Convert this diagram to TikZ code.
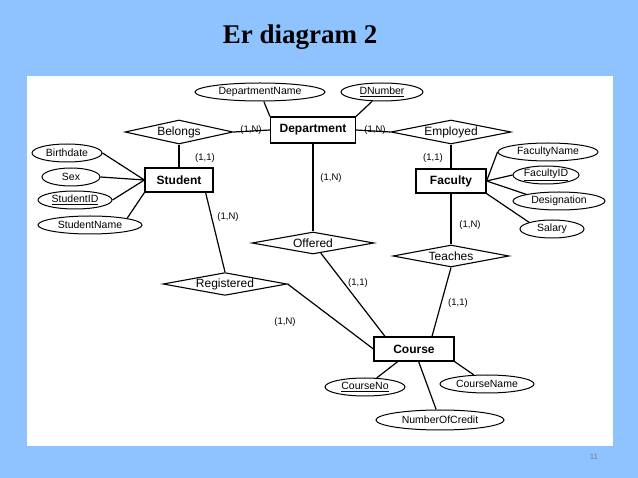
\documentclass[tikz,border=0pt]{standalone}
\usepackage{fontspec}
\setmainfont{Liberation Sans}
\newfontfamily\titlefont{Liberation Serif}
\usetikzlibrary{shapes.geometric}
\definecolor{bg}{HTML}{8EC3FF}
\begin{document}
\begin{tikzpicture}[x=1pt,y=-1pt,
  ent/.style={draw,line width=1.2pt,fill=white,font=\fontsize{12}{14}\selectfont\bfseries,minimum height=24pt,inner sep=1pt},
  att/.style={draw,line width=1pt,ellipse,fill=white,font=\fontsize{10.5}{12}\selectfont,minimum height=18pt,inner sep=0pt},
  rel/.style={draw,line width=1.1pt,diamond,aspect=5,fill=white,font=\fontsize{12}{14}\selectfont,inner sep=0pt},
  card/.style={font=\fontsize{9.5}{11}\selectfont},
  ln/.style={line width=1.2pt}]
\fill[bg] (0,0) rectangle (638,478);
\fill[white] (27,76) rectangle (613,446);
\node[font=\titlefont\fontsize{27}{30}\selectfont\bfseries] (title) at (300,37) {Er diagram 2};
\node[font=\fontsize{8}{9}\selectfont,text=gray] (pg) at (594,457) {11};
% entities
\node[ent,minimum width=85pt,minimum height=26pt] (dep) at (313,130) {Department};
\node[ent,minimum width=68pt] (stu) at (179,180) {Student};
\node[ent,minimum width=70pt] (fac) at (451,181) {Faculty};
\node[ent,minimum width=80pt] (cou) at (414,349) {Course};
% attributes
\node[att,minimum width=130pt] (dname) at (260,92) {DepartmentName};
\node[att,minimum width=82pt] (dnum) at (382,92) {\underline{DNumber}};
\node[att,minimum width=70pt] (bd) at (67,153) {Birthdate};
\node[att,minimum width=58pt] (sex) at (71,177) {Sex};
\node[att,minimum width=74pt] (sid) at (75,200) {\underline{StudentID}};
\node[att,minimum width=104pt] (sname) at (90,225) {StudentName};
\node[att,minimum width=100pt] (fname) at (548,152) {FacultyName};
\node[att,minimum width=66pt] (fid) at (546,175) {\underline{FacultyID}};
\node[att,minimum width=92pt] (desig) at (559,201) {Designation};
\node[att,minimum width=64pt] (sal) at (552,229) {Salary};
\node[att,minimum width=80pt] (cno) at (365,387) {\underline{CourseNo}};
\node[att,minimum width=94pt] (cname) at (487,384) {CourseName};
\node[att,minimum width=128pt,minimum height=20pt] (ncr) at (440,420) {NumberOfCredit};
% relationships
\node[rel,minimum width=108pt,minimum height=24pt] (bel) at (179,132) {Belongs};
\node[rel,minimum width=120pt,minimum height=24pt] (emp) at (451,132) {Employed};
\node[rel,minimum width=122pt,minimum height=22pt] (off) at (313,243) {Offered};
\node[rel,minimum width=116pt,minimum height=22pt] (tea) at (451,256) {Teaches};
\node[rel,minimum width=124pt,minimum height=22pt] (reg) at (225,284) {Registered};
% connectors
\draw[ln] (dname) -- (dep.north west);
\draw[ln] (dnum) -- (dep.north east);
\draw[ln] (bel.east) -- (dep.west);
\draw[ln] (dep.east) -- (emp.west);
\draw[ln] (bel.south) -- (stu.north);
\draw[ln] (emp.south) -- (fac.north);
\draw[ln] (bd.east) -- (stu.west);
\draw[ln] (sex.east) -- (stu.west);
\draw[ln] (sid.east) -- (stu.west);
\draw[ln] (sname.north east) -- (stu.south west);
\draw[ln] (fname.west) -- (fac.east);
\draw[ln] (fid.west) -- (fac.east);
\draw[ln] (desig.north west) -- (fac.east);
\draw[ln] (sal.north west) -- (fac.south east);
\draw[ln] (dep.south) -- (off.north);
\draw[ln] (fac.south) -- (tea.north);
\draw[ln] ([xshift=-8pt]stu.south east) -- (reg.north);
\draw[ln] (reg.east) -- (cou.west);
\draw[ln] (off) -- ([xshift=-29pt]cou.north);
\draw[ln] (tea.south) -- ([xshift=18pt]cou.north);
\draw[ln] (cno) -- (cou);
\draw[ln] (cname) -- (cou.south east);
\draw[ln] (ncr) -- (cou);
% cardinalities
\node[card] (c1) at (251,130) {(1,N)};
\node[card] (c2) at (375,130) {(1,N)};
\node[card] (c3) at (205,158) {(1,1)};
\node[card] (c4) at (433,158) {(1,1)};
\node[card] (c5) at (331,178) {(1,N)};
\node[card] (c6) at (228,217) {(1,N)};
\node[card] (c7) at (470,225) {(1,N)};
\node[card] (c8) at (358,283) {(1,1)};
\node[card] (c9) at (458,303) {(1,1)};
\node[card] (c10) at (285,322) {(1,N)};
\end{tikzpicture}
\end{document}
